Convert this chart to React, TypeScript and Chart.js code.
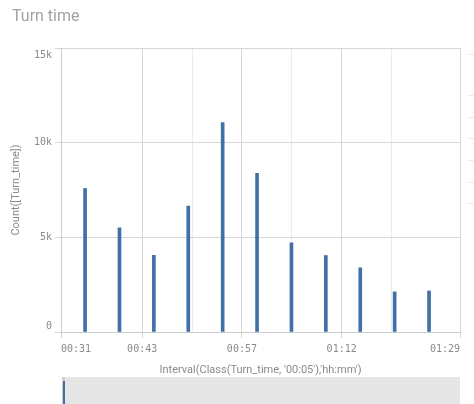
import React, { useEffect, useRef } from 'react';
import { Chart, registerables } from 'chart.js';

Chart.register(...registerables);

const chartTitle = 'Turn time';
const xAxisTitle = "Interval(Class(Turn_time, '00:05'),'hh:mm')";
const yAxisTitle = 'Count([Turn_time])';

// bin centres in minutes (5-minute classes)
const binCenters = [34.5, 39.5, 44.5, 49.5, 54.5, 59.5, 64.5, 69.5, 74.5, 79.5, 84.5];
const counts = [7580, 5500, 4050, 6650, 11060, 8380, 4710, 4040, 3390, 2120, 2170];

const xMin = 31;
const xMax = 89;
const majorTicks = [31, 42.8, 57.3, 71.8, 89];
const majorLabels = ['00:31', '00:43', '00:57', '01:12', '01:29'];
const minorTicks = [50.05, 64.55, 79.05];

const yTicks = [0, 5000, 10000, 15000];
const yLabels = ['0', '5k', '10k', '15k'];

const BAR = '#3f70a6';
const GRID = '#d6d6d6';
const GRID_MINOR = '#ebebeb';
const TEXT = '#8a8a8a';
const TICK_FONT = '10px "DejaVu Sans Mono", monospace';

export default function App() {
  const ref = useRef<HTMLCanvasElement | null>(null);

  useEffect(() => {
    if (!ref.current) return;
    const decor = {
      id: 'decor',
      afterDraw(chart: any) {
        const ctx = chart.ctx;
        const area = chart.chartArea;
        const ys = chart.scales.y;
        ctx.save();
        // title
        ctx.fillStyle = '#a3a3a3';
        ctx.font = '16px Roboto, "Open Sans", sans-serif';
        ctx.textBaseline = 'middle';
        ctx.textAlign = 'left';
        ctx.fillText(chartTitle, 12, 17);
        // inner-aligned end labels of the value axis
        ctx.fillStyle = TEXT;
        ctx.font = TICK_FONT;
        ctx.textAlign = 'right';
        const lx = ys.right - 9;
        ctx.textBaseline = 'bottom';
        ctx.fillText(yLabels[0], lx, ys.getPixelForValue(yTicks[0]) - 1);
        ctx.textBaseline = 'top';
        ctx.fillText(
          yLabels[yLabels.length - 1],
          lx,
          ys.getPixelForValue(yTicks[yTicks.length - 1]) + 2
        );
        // scroll bar under the chart
        ctx.fillStyle = '#e5e5e5';
        ctx.fillRect(area.left + 1, 377, area.right - area.left - 1, 27);
        ctx.fillStyle = '#cfcfcf';
        ctx.fillRect(area.left + 1, 377, 3, 27);
        ctx.fillStyle = BAR;
        ctx.fillRect(area.left + 2, 381, 2, 23);
        // faint clipped marks at the right edge
        ctx.strokeStyle = '#ececec';
        ctx.lineWidth = 1;
        [54, 95, 117, 138, 160, 182, 203].forEach((y) => {
          ctx.beginPath();
          ctx.moveTo(468, y + 0.5);
          ctx.lineTo(474, y + 0.5);
          ctx.stroke();
        });
        ctx.restore();
      },
    };

    const chart = new Chart(ref.current, {
      type: 'bar',
      data: {
        datasets: [
          {
            data: binCenters.map((x, i) => ({ x, y: counts[i] })),
            backgroundColor: BAR,
            barThickness: 3,
          },
        ],
      },
      options: {
        animation: false,
        responsive: false,
        layout: { padding: { top: 48, right: 14, left: 0, bottom: 0 } },
        plugins: {
          legend: { display: false },
          tooltip: { enabled: false },
          title: { display: false },
        },
        scales: {
          x: {
            type: 'linear',
            min: xMin,
            max: xMax,
            offset: false,
            afterBuildTicks: (scale: any) => {
              scale.ticks = [...majorTicks, ...minorTicks]
                .sort((a, b) => a - b)
                .map((v) => ({ value: v }));
            },
            afterFit: (scale: any) => {
              scale.height = 72;
            },
            grid: {
              offset: false,
              color: (c: any) =>
                c.tick && minorTicks.includes(c.tick.value) ? GRID_MINOR : GRID,
              tickColor: (c: any) =>
                c.tick && minorTicks.includes(c.tick.value) ? 'rgba(0,0,0,0)' : GRID,
              tickLength: 6,
            },
            border: { color: '#cccccc' },
            ticks: {
              autoSkip: false,
              maxRotation: 0,
              align: 'inner',
              padding: 5,
              color: TEXT,
              font: { family: '"DejaVu Sans Mono", monospace', size: 10 },
              callback: (v: any) => {
                const i = majorTicks.indexOf(Number(v));
                return i >= 0 ? majorLabels[i] : '';
              },
            },
            title: {
              display: true,
              text: xAxisTitle,
              color: TEXT,
              font: { family: 'Roboto, sans-serif', size: 11 },
              padding: { top: 2, bottom: 27 },
            },
          },
          y: {
            min: 0,
            max: 15000,
            afterBuildTicks: (scale: any) => {
              scale.ticks = yTicks.map((v) => ({ value: v }));
            },
            afterFit: (scale: any) => {
              scale.width = 61;
            },
            grid: { color: GRID, tickLength: 6 },
            border: { color: '#cccccc' },
            ticks: {
              padding: 3,
              color: TEXT,
              font: { family: '"DejaVu Sans Mono", monospace', size: 10 },
              callback: (v: any) => {
                const i = yTicks.indexOf(Number(v));
                // first and last labels are drawn inner-aligned by the decor plugin
                return i > 0 && i < yTicks.length - 1 ? yLabels[i] : '';
              },
            },
            title: {
              display: true,
              text: yAxisTitle,
              color: TEXT,
              font: { family: 'Roboto, sans-serif', size: 11 },
              padding: { top: 10, bottom: 0 },
            },
          },
        },
      },
      plugins: [decor],
    } as any);
    return () => chart.destroy();
  }, []);

  return (
    <div style={{ position: 'absolute', left: 0, top: 0, width: 474, height: 404, background: '#fff' }}>
      <canvas ref={ref} width={474} height={404} style={{ display: 'block' }} />
    </div>
  );
}
